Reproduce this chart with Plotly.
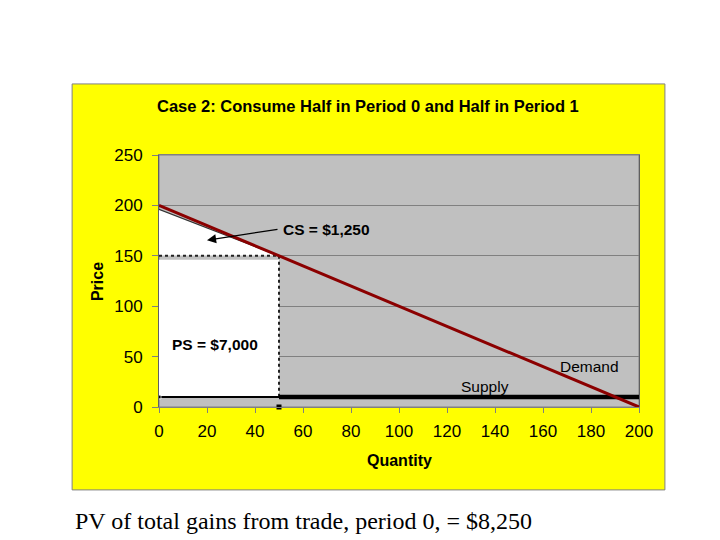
import plotly.graph_objects as go

# market data
demand_q = [0, 200]
demand_p = [200, 0]
supply_q = [0, 50, 200]
supply_p = [10, 10, 10]

# surplus regions
cs_q = [0, 50, 0, 0]
cs_p = [196, 150, 150, 196]
ps_q = [0, 50, 50, 0, 0]
ps_p = [10, 10, 146, 146, 10]

# equilibrium guides (dashed)
eq_q = [0, 50, 50]
eq_p = [150, 150, 10]

x_ticks = list(range(0, 201, 20))
y_ticks = list(range(0, 251, 50))

fig = go.Figure()

# producer surplus rectangle
fig.add_trace(go.Scatter(x=ps_q, y=ps_p, fill='toself', fillcolor='white',
                         mode='lines', line=dict(width=0), hoverinfo='skip'))
# consumer surplus triangle
fig.add_trace(go.Scatter(x=cs_q, y=cs_p, fill='toself', fillcolor='white',
                         mode='lines', line=dict(width=0), hoverinfo='skip'))
fig.add_trace(go.Scatter(x=cs_q[:2], y=cs_p[:2], mode='lines',
                         line=dict(color='#333333', width=1.2), hoverinfo='skip'))
# dashed equilibrium lines
fig.add_trace(go.Scatter(x=eq_q, y=eq_p, mode='lines',
                         line=dict(color='#222222', width=2, dash='dot'), hoverinfo='skip'))
# supply
fig.add_trace(go.Scatter(x=supply_q[:2], y=supply_p[:2], mode='lines+markers',
                         line=dict(color='black', width=2),
                         marker=dict(symbol='square', size=[4, 0], color='black')))
fig.add_trace(go.Scatter(x=supply_q[1:], y=supply_p[1:], mode='lines',
                         line=dict(color='black', width=4.5)))
# demand
fig.add_trace(go.Scatter(x=demand_q, y=demand_p, mode='lines',
                         line=dict(color='#8B0000', width=3)))
# small marker under the axis at q = 50
fig.add_trace(go.Scatter(x=[eq_q[1]], y=[0], mode='markers', cliponaxis=False,
                         marker=dict(symbol='square', size=5, color='black')))

# yellow chart box and grey plot area
fig.add_shape(type='rect', xref='paper', yref='paper',
              x0=-0.181, x1=1.054, y0=-0.329, y1=1.282,
              fillcolor='#FFFF00', line=dict(color='#808080', width=1), layer='below')
fig.add_shape(type='rect', xref='paper', yref='paper',
              x0=0, x1=1, y0=0, y1=1,
              fillcolor='#C0C0C0', line=dict(color='#808080', width=1), layer='below')

fig.add_annotation(x=20, y=165.5, ax=50, ay=176.5, axref='x', ayref='y',
                   text='', showarrow=True, arrowhead=2, arrowsize=1.4,
                   arrowwidth=1.3, arrowcolor='black')
fig.add_annotation(x=51, y=176.5, text='<b>CS = $1,250</b>', showarrow=False,
                   xanchor='left', font=dict(size=15.5, color='black'))
fig.add_annotation(x=23.5, y=62.5, text='<b>PS = $7,000</b>', showarrow=False,
                   font=dict(size=15.5, color='black'))
fig.add_annotation(x=179.5, y=40, text='Demand', showarrow=False,
                   font=dict(size=15.5, color='black'))
fig.add_annotation(x=136, y=20, text='Supply', showarrow=False,
                   font=dict(size=15.5, color='black'))

fig.add_annotation(x=0.435, y=1.194, xref='paper', yref='paper',
                   xanchor='center', yanchor='middle',
                   text='<b>Case 2: Consume Half in Period 0 and Half in Period 1</b>',
                   showarrow=False, font=dict(size=16.5, color='black'))
fig.add_annotation(x=0.5, y=-0.214, xref='paper', yref='paper',
                   xanchor='center', yanchor='middle',
                   text='<b>Quantity</b>', showarrow=False,
                   font=dict(size=16, color='black'))
fig.add_annotation(x=-0.129, y=0.496, xref='paper', yref='paper', textangle=-90,
                   xanchor='center', yanchor='middle',
                   text='<b>Price</b>', showarrow=False,
                   font=dict(size=16, color='black'))
fig.add_annotation(x=-0.179, y=-0.452, xref='paper', yref='paper',
                   xanchor='left', yanchor='middle',
                   text='PV of total gains from trade, period 0, = $8,250',
                   showarrow=False,
                   font=dict(family='Liberation Serif', size=24, color='black'))

fig.update_xaxes(range=[0, 200], tickvals=x_ticks, showgrid=False, zeroline=False,
                 ticks='outside', ticklen=5, tickcolor='#808080', automargin=False,
                 ticklabelstandoff=4,
                 showline=True, linecolor='#808080', mirror=True,
                 tickfont=dict(size=17, color='black'))
fig.update_yaxes(range=[0, 250], tickvals=y_ticks, showgrid=True, gridcolor='#808080',
                 zeroline=False, ticks='outside', ticklen=6, tickcolor='#808080',
                 ticklabelstandoff=6,
                 showline=True, linecolor='#606060', mirror=True, automargin=False,
                 tickfont=dict(size=17, color='black'))

# the page body adds an 8px offset, so the figure is shrunk to keep the plot in place
fig.update_layout(
    width=712, height=532,
    margin=dict(l=151, r=81, t=147, b=133),
    paper_bgcolor='white', plot_bgcolor='rgba(0,0,0,0)',
    font=dict(family='Liberation Sans', color='black'),
    showlegend=False,
)

fig.write_html("out.html")
